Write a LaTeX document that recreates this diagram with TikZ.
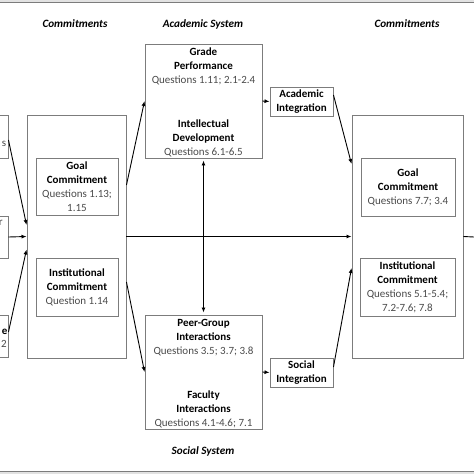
\documentclass[tikz,border=0pt]{standalone}
\usepackage{fontspec}
\setmainfont{Carlito}
\usetikzlibrary{arrows.meta,calc}
\definecolor{boxgray}{HTML}{7C7C7C}
\definecolor{qgray}{HTML}{4A4A4A}
\definecolor{bargray}{HTML}{E2E2E2}
\begin{document}
\begin{tikzpicture}[x=1pt,y=-1pt,
  box/.style={draw=boxgray,line width=0.95pt,inner sep=0pt},
  txt/.style={align=center,inner sep=0pt,font=\fontsize{11}{14}\selectfont},
  hd/.style={font=\fontsize{11.2}{14}\selectfont\bfseries\itshape,inner sep=0pt},
  arr/.style={-{Latex[length=5pt,width=4pt]},line width=0.9pt,black},
  darr/.style={{Latex[length=5pt,width=4pt]}-{Latex[length=5pt,width=4pt]},line width=0.9pt,black}]
\useasboundingbox (0,0) rectangle (474,474);
% frame bars
\fill[bargray] (0,0) rectangle (474,2);
\draw[boxgray,line width=1pt] (0,2.5) -- (474,2.5);
\fill[bargray] (0,471.5) rectangle (474,474);
\draw[boxgray,line width=1pt] (0,471.5) -- (474,471.5);
% headings
\node[hd] (h1) at (75,24) {Commitments};
\node[hd] (h2) at (203,24) {Academic System};
\node[hd] (h3) at (407,24) {Commitments};
\node[hd] (h4) at (203,451) {Social System};
% left cut-off boxes
\node[box,minimum width=90pt,minimum height=43pt] (lb1) at (-37,136.5) {};
\node[box,minimum width=90pt,minimum height=42pt] (lb2) at (-37,237) {};
\node[box,minimum width=90pt,minimum height=42pt] (lb3) at (-37,336) {};
\node[txt,text=qgray,anchor=east] (f1) at (6.5,144) {s};
\node[txt,text=qgray,anchor=east] (f2) at (3,223) {r};
\node[txt,font=\fontsize{11}{14}\selectfont\bfseries,anchor=east] (f3) at (7.5,332) {e};
\node[txt,text=qgray,anchor=east] (f4) at (7,344) {2};
% left commitments
\node[box,minimum width=99pt,minimum height=243pt] (LB) at (76.5,236.5) {};
\node[box,minimum width=82pt,minimum height=57pt] (LG) at (77,186.5) {};
\node[txt] (LGt) at (77,187) {\textbf{Goal}\\\textbf{Commitment}\\\textcolor{qgray}{Questions 1.13;}\\\textcolor{qgray}{1.15}};
\node[box,minimum width=82pt,minimum height=58pt] (LI) at (77,287) {};
\node[txt] (LIt) at (77,287.5) {\textbf{Institutional}\\\textbf{Commitment}\\\textcolor{qgray}{Question 1.14}};
% academic system
\node[box,minimum width=117pt,minimum height=114pt] (AS) at (203.5,101) {};
\node[txt] (ASa) at (203.5,66.5) {\textbf{Grade}\\\textbf{Performance}\\\textcolor{qgray}{Questions 1.11; 2.1-2.4}};
\node[txt] (ASb) at (203.5,138) {\textbf{Intellectual}\\\textbf{Development}\\\textcolor{qgray}{Questions 6.1-6.5}};
% social system
\node[box,minimum width=117pt,minimum height=114pt] (SS) at (203.5,372) {};
\node[txt] (SSa) at (203.5,337.5) {\textbf{Peer-Group}\\\textbf{Interactions}\\\textcolor{qgray}{Questions 3.5; 3.7; 3.8}};
\node[txt] (SSb) at (203.5,409) {\textbf{Faculty}\\\textbf{Interactions}\\\textcolor{qgray}{Questions 4.1-4.6; 7.1}};
% integration
\node[box,minimum width=63pt,minimum height=29pt] (AI) at (301.5,101.5) {};
\node[txt] (AIt) at (301.5,102) {\textbf{Academic}\\\textbf{Integration}};
\node[box,minimum width=63pt,minimum height=29pt] (SI) at (301.5,372.5) {};
\node[txt] (SIt) at (301.5,373) {\textbf{Social}\\\textbf{Integration}};
% right commitments
\node[box,minimum width=111pt,minimum height=243pt] (RB) at (407.5,236.5) {};
\node[box,minimum width=94pt,minimum height=58pt] (RG) at (408,187) {};
\node[txt] (RGt) at (408,187.5) {\textbf{Goal}\\\textbf{Commitment}\\\textcolor{qgray}{Questions 7.7; 3.4}};
\node[box,minimum width=95pt,minimum height=58pt] (RI) at (407.5,287) {};
\node[txt] (RIt) at (407.5,287.5) {\textbf{Institutional}\\\textbf{Commitment}\\\textcolor{qgray}{Questions 5.1-5.4;}\\\textcolor{qgray}{7.2-7.6; 7.8}};
\coordinate (out) at (474,237);
% connectors
\draw[arr] ([yshift=-3.5pt]lb1.east) -- ([yshift=11.5pt]LB.west);
\draw[arr] (lb2.east) -- (LB.west);
\draw[arr] ([yshift=4pt]lb3.east) -- ([yshift=-13pt]LB.west);
\draw[arr] ([yshift=51.5pt]LB.east) -- (AS.west);
\draw[arr] ([yshift=-45.5pt]LB.east) -- (SS.west);
\draw[arr] (LB.east) -- (RB.west);
\draw[line width=0.9pt] (RB.east) -- (out);
\draw[arr] (AS.east) -- (AI.west);
\draw[arr] (SS.east) -- (SI.west);
\draw[arr] ([yshift=6.5pt]AI.east) -- ([yshift=72.5pt]RB.west);
\draw[arr] ([yshift=5.5pt]SI.east) -- ([yshift=-31.5pt]RB.west);
\draw[darr,shorten <=2pt,shorten >=2pt] (AS.south) -- (SS.north);
\end{tikzpicture}
\end{document}
